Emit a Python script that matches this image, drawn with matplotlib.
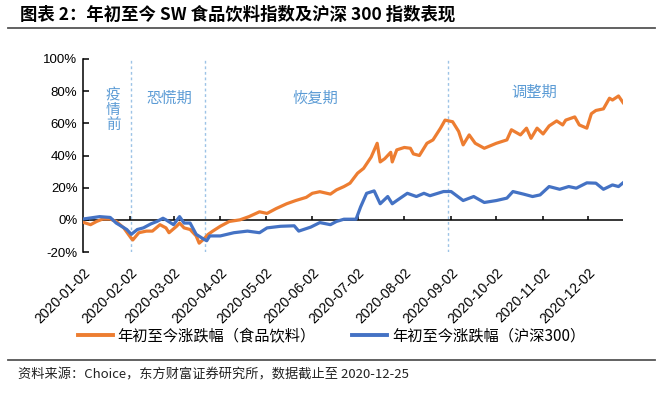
import matplotlib
matplotlib.use("Agg")
import matplotlib.pyplot as plt
from matplotlib.lines import Line2D
import pandas as pd

plt.rcParams['font.family'] = ['Liberation Sans', 'Noto Sans CJK SC', 'DejaVu Sans']

# 食品饮料 年初至今涨跌幅 (%)
food_dates = ["2020-01-02", "2020-01-07", "2020-01-11", "2020-01-15", "2020-01-20", "2020-01-24",
              "2020-01-29", "2020-02-03", "2020-02-04", "2020-02-08", "2020-02-13", "2020-02-17",
              "2020-02-22", "2020-02-26", "2020-02-28", "2020-03-04", "2020-03-06", "2020-03-09",
              "2020-03-13", "2020-03-17", "2020-03-19", "2020-03-22", "2020-03-25", "2020-03-28",
              "2020-04-02", "2020-04-08", "2020-04-15", "2020-04-21", "2020-04-28", "2020-05-03",
              "2020-05-09", "2020-05-16", "2020-05-22", "2020-05-29", "2020-06-02", "2020-06-07",
              "2020-06-14", "2020-06-18", "2020-06-23", "2020-06-27", "2020-07-02", "2020-07-06",
              "2020-07-11", "2020-07-15", "2020-07-17", "2020-07-20", "2020-07-24", "2020-07-25",
              "2020-07-28", "2020-08-02", "2020-08-06", "2020-08-08", "2020-08-12", "2020-08-17",
              "2020-08-21", "2020-08-26", "2020-08-29", "2020-09-03", "2020-09-07", "2020-09-10",
              "2020-09-14", "2020-09-18", "2020-09-24", "2020-10-02", "2020-10-09", "2020-10-12",
              "2020-10-18", "2020-10-22", "2020-10-25", "2020-10-29", "2020-11-02", "2020-11-06",
              "2020-11-11", "2020-11-15", "2020-11-17", "2020-11-23", "2020-11-26", "2020-12-01",
              "2020-12-04", "2020-12-07", "2020-12-12", "2020-12-16", "2020-12-18", "2020-12-22",
              "2020-12-25"]
food_vals = [-1.5, -3, -1, 0.5, 0.5, -1, -5, -11.5, -12.5, -8, -7, -7,
             -3, -5, -8, -4, -2, -5, -6, -10, -14.5, -12, -9, -7,
             -4, -1, 0, 2, 5, 4, 7, 10, 12, 14, 16.5, 17.5,
             16, 18.6, 20.7, 22.8, 29, 32, 39, 47.6, 36, 38, 42, 36,
             43.5, 45, 44.5, 41, 40, 47.6, 49.7, 57, 62, 61, 55, 46.6,
             52.8, 47.6, 44.5, 47.6, 49.7, 56, 52.8, 57, 50.7, 57, 53.4, 58.4,
             61.5, 59, 62, 64, 59, 57, 66, 68, 69, 75.6, 74.5, 77,
             72.9]

# 沪深300 年初至今涨跌幅 (%)
hs_dates = ["2020-01-02", "2020-01-13", "2020-01-20", "2020-01-24", "2020-01-31", "2020-02-03",
            "2020-02-07", "2020-02-11", "2020-02-16", "2020-02-20", "2020-02-24", "2020-02-26",
            "2020-03-02", "2020-03-06", "2020-03-09", "2020-03-13", "2020-03-17", "2020-03-22",
            "2020-03-24", "2020-03-26", "2020-04-02", "2020-04-11", "2020-04-20", "2020-04-28",
            "2020-05-03", "2020-05-12", "2020-05-21", "2020-05-24", "2020-06-01", "2020-06-07",
            "2020-06-14", "2020-06-18", "2020-06-23", "2020-07-01", "2020-07-04", "2020-07-08",
            "2020-07-13", "2020-07-17", "2020-07-22", "2020-07-25", "2020-07-28", "2020-08-04",
            "2020-08-10", "2020-08-15", "2020-08-19", "2020-08-28", "2020-09-02", "2020-09-10",
            "2020-09-17", "2020-09-24", "2020-10-02", "2020-10-09", "2020-10-13", "2020-10-20",
            "2020-10-26", "2020-10-31", "2020-11-06", "2020-11-13", "2020-11-19", "2020-11-24",
            "2020-12-01", "2020-12-07", "2020-12-12", "2020-12-18", "2020-12-22", "2020-12-25"]
hs_vals = [0.5, 2, 1.5, -2, -6, -9,
           -6, -5, -2.5, -1, 1, 0,
           -3, 2, -2, -2, -9, -12,
           -13, -10, -10, -8, -7, -8,
           -5, -4, -3.7, -7, -4.5, -1.7,
           -3, -1, 0.4, 0.4, 8, 16.5,
           18, 10, 14.5, 10, 12, 16.5,
           14.5, 16.5, 15, 17.6, 17.6, 12,
           14.5, 10.8, 12, 13.5, 17.6, 16,
           14.5, 15.5, 20.7, 19, 20.7, 19.7,
           23, 22.8, 19, 21.7, 20.7, 23]

tick_dates = ["2020-01-02", "2020-02-02", "2020-03-02", "2020-04-02", "2020-05-02", "2020-06-02",
              "2020-07-02", "2020-08-02", "2020-09-02", "2020-10-02", "2020-11-02", "2020-12-02"]
phase_lines = ["2020-02-03", "2020-03-23", "2020-08-31"]
yticks = [-20, 0, 20, 40, 60, 80, 100]

orange = "#ED7D31"
blue = "#4472C4"
pale = "#9DC3E6"
label_col = "#5B9BD5"

fd = pd.to_datetime(food_dates)
hd = pd.to_datetime(hs_dates)
td = pd.to_datetime(tick_dates)

fig = plt.figure(figsize=(6.6, 3.97), dpi=100)
ax = fig.add_axes([0.1258, 0.3652, 0.8182, 0.4862])

ax.plot(fd, food_vals, color=orange, lw=2.3, solid_joinstyle="round", zorder=3)
ax.plot(hd, hs_vals, color=blue, lw=2.3, solid_joinstyle="round", zorder=4)

for d in pd.to_datetime(phase_lines):
    ax.axvline(d, color=pale, lw=1, ls=(0, (2, 2)), zorder=1)

ax.axhline(0, color="black", lw=1.1, zorder=2)
ax.vlines(td[1:], 0, 2.5, color="black", lw=1.1, zorder=2)

ax.set_xlim(fd[0], fd[-1])
ax.set_ylim(-20, 100)
ax.set_yticks(yticks)
ax.set_yticklabels([f"{v}%" for v in yticks], fontsize=9.5)
ax.set_xticks(td)
ax.set_xticklabels(tick_dates, rotation=45, ha="right", rotation_mode="anchor", fontsize=10)
ax.tick_params(axis="x", length=0, pad=10)
ax.tick_params(axis="y", direction="in", length=4, width=1.1, pad=4)

for s in ["top", "right", "bottom"]:
    ax.spines[s].set_visible(False)
ax.spines["left"].set_linewidth(1.1)

cjk = ['Noto Sans CJK SC', 'DejaVu Sans']
ax.text(pd.Timestamp("2020-01-22"), 81.5, "疫\n情\n前", color=label_col, fontsize=10.5,
        ha="center", va="top", family=cjk, linespacing=1.05)
ax.text(pd.Timestamp("2020-02-28"), 75.5, "恐慌期", color=label_col, fontsize=11,
        ha="center", va="center", family=cjk)
ax.text(pd.Timestamp("2020-06-04"), 75.5, "恢复期", color=label_col, fontsize=11,
        ha="center", va="center", family=cjk)
ax.text(pd.Timestamp("2020-10-27"), 79, "调整期", color=label_col, fontsize=11,
        ha="center", va="center", family=cjk)

# title, rules, legend, source
fig.text(0.03, 0.962, "图表 2：年初至今 SW 食品饮料指数及沪深 300 指数表现", fontsize=12.5,
         fontweight="bold", family=cjk, va="center")
fig.add_artist(Line2D([0.012, 0.992], [0.929, 0.929], color="#555555", lw=1.3))
fig.add_artist(Line2D([0.012, 0.992], [0.093, 0.093], color="#555555", lw=1.3))
fig.text(0.027, 0.055, "资料来源：Choice，东方财富证券研究所，数据截止至 2020-12-25", fontsize=9.5,
         family=cjk, va="center", color="#222222")

handles = [Line2D([], [], color=orange, lw=2.8), Line2D([], [], color=blue, lw=2.8)]
fig.legend(handles, ["年初至今涨跌幅（食品饮料）", "年初至今涨跌幅（沪深300）"],
           loc="center", bbox_to_anchor=(0.502, 0.153), ncol=2, frameon=False,
           prop={"family": cjk, "size": 11}, handlelength=2.3, handletextpad=0.3,
           columnspacing=2.4)

fig.savefig("out.png", dpi=100)
